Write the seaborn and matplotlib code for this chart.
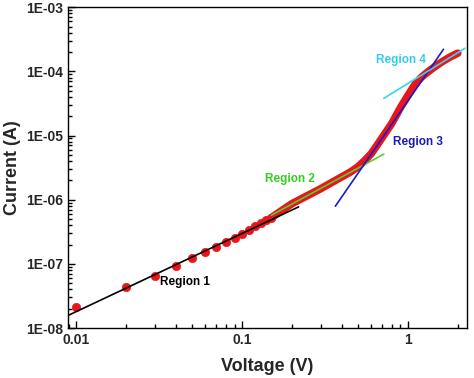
import numpy as np
import pandas as pd
import matplotlib
matplotlib.use('Agg')
import matplotlib.pyplot as plt
import matplotlib.ticker as ticker
import seaborn as sns

# measured points (low bias, markers)
v_points = [0.01, 0.02, 0.03, 0.04, 0.05, 0.06, 0.07, 0.08, 0.09, 0.10,
            0.11, 0.12, 0.13, 0.14, 0.15]
i_points = [2.13e-8, 4.36e-8, 6.6e-8, 9.3e-8, 1.22e-7, 1.52e-7, 1.84e-7, 2.17e-7,
            2.54e-7, 2.97e-7, 3.43e-7, 3.86e-7, 4.36e-7, 4.8e-7, 5.27e-7]

# dense measured curve (higher bias)
v_curve = [0.15, 0.2, 0.3, 0.4, 0.45, 0.5, 0.55, 0.6, 0.65, 0.7, 0.75, 0.8, 0.9,
           1.0, 1.1, 1.2, 1.3, 1.4, 1.5, 1.6, 1.8, 2.0]
i_curve = [5.27e-7, 8.7e-7, 1.5e-6, 2.28e-6, 2.7e-6, 3.26e-6, 4.1e-6, 5.2e-6,
           7.0e-6, 9.3e-6, 1.21e-5, 1.55e-5, 2.7e-5, 4.2e-5, 6.2e-5, 8.0e-5,
           9.5e-5, 1.1e-4, 1.25e-4, 1.4e-4, 1.68e-4, 1.92e-4]

# fitted lines (end points)
fit_v = {'Region 1': [0.00875, 0.219], 'Region 2': [0.150, 0.716],
         'Region 3': [0.365, 1.64], 'Region 4': [0.716, 2.21]}
fit_i = {'Region 1': [1.54e-8, 7.74e-7], 'Region 2': [5.74e-7, 5.14e-6],
         'Region 3': [7.93e-7, 2.21e-4], 'Region 4': [3.8e-5, 2.29e-4]}
fit_colors = {'Region 1': 'black', 'Region 2': '#4fd32a',
              'Region 3': '#1a1ad0', 'Region 4': '#33d6ee'}
label_colors = {'Region 1': 'black', 'Region 2': '#33cc22',
                'Region 3': '#1a1ab8', 'Region 4': '#33ccee'}
label_pos = {'Region 1': (0.032, 5.2e-8), 'Region 2': (0.137, 2.1e-6),
             'Region 3': (0.81, 7.9e-6), 'Region 4': (0.638, 1.5e-4)}

sns.set_style('ticks')
plt.rcParams['font.family'] = ['Liberation Sans', 'DejaVu Sans']
plt.rcParams['font.weight'] = 'bold'

fig = plt.figure(figsize=(4.74, 3.78), dpi=100)
ax = fig.add_axes([0.1435, 0.132, 0.8415, 0.849])

red = '#e8161b'
sns.lineplot(x=v_curve, y=i_curve, color=red, linewidth=5.5, ax=ax, zorder=2)
sns.scatterplot(x=v_points, y=i_points, color=red, s=36, edgecolor=red,
                linewidth=0.5, ax=ax, zorder=3)

for name in fit_v:
    sns.lineplot(x=fit_v[name], y=fit_i[name], color=fit_colors[name],
                 linewidth=1.2, ax=ax, zorder=4)
    ax.text(label_pos[name][0], label_pos[name][1], name, color=label_colors[name],
            fontsize=8.5, fontweight='bold', va='center', ha='left')

ax.set_xscale('log')
ax.set_yscale('log')
ax.set_xlim(0.0089, 2.27)
ax.set_ylim(1e-8, 1e-3)
ax.yaxis.set_major_formatter(ticker.FuncFormatter(lambda y, pos: '1E-%02d' % round(-np.log10(y))))
ax.xaxis.set_major_formatter(ticker.FuncFormatter(lambda x, pos: '{:g}'.format(x)))
ax.xaxis.set_minor_formatter(ticker.NullFormatter())
ax.tick_params(which='both', direction='in', labelsize=10, width=1, color='black')
ax.tick_params(which='major', length=5)
ax.tick_params(which='minor', length=3)
for lab in ax.get_xticklabels() + ax.get_yticklabels():
    lab.set_fontweight('bold')
for sp in ax.spines.values():
    sp.set_visible(True)
    sp.set_linewidth(1)
    sp.set_color('black')

ax.set_xlabel('Voltage (V)', fontsize=13, fontweight='bold', labelpad=8)
ax.set_ylabel('Current (A)', fontsize=13, fontweight='bold', labelpad=4)

plt.savefig('out.png', dpi=100)
